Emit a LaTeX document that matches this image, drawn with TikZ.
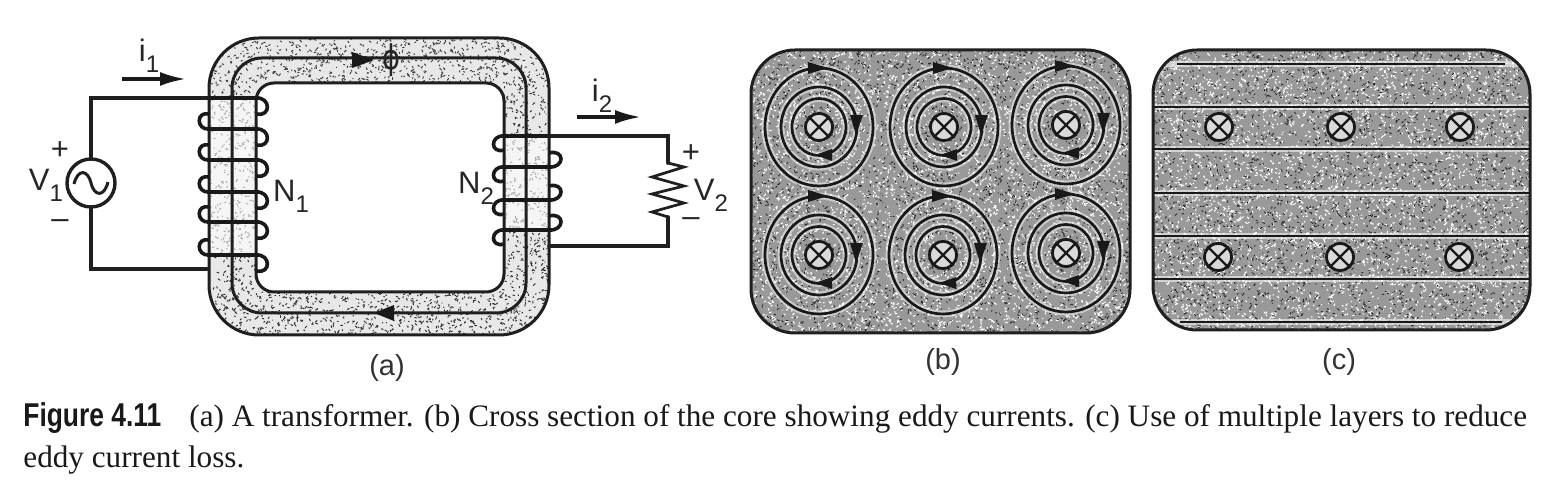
\documentclass[tikz,border=0pt]{standalone}
\usepackage{fontspec}
\setmainfont{Liberation Sans}
\newfontfamily\capserif{Liberation Serif}
\newfontfamily\capbold[FakeStretch=0.8]{Liberation Sans Bold}
\newfontfamily\phifont{DejaVu Sans}
\usetikzlibrary{arrows.meta}
\newcommand{\lsub}[1]{\raisebox{-.36em}{\fontsize{12}{12}\selectfont #1}}
% speckle: x0 y0 w h count colour width
\newcommand{\speck}[7]{%
  \foreach \k in {1,...,#5}{%
    \pgfmathsetmacro\pxa{#1+#3*rnd}%
    \pgfmathsetmacro\pya{#2+#4*rnd}%
    \pgfmathsetmacro\pxb{\pxa+4*rnd-2}%
    \pgfmathsetmacro\pyb{\pya+4*rnd-2}%
    \draw[#6,line width=#7,line cap=round] (\pxa,\pya) -- (\pxb,\pyb);
  }%
}
\tikzset{
  wire/.style={line width=1.8pt,line join=miter,line cap=round,black!88},
  coil/.style={line width=1.8pt,black!90},
  coreline/.style={line width=1.5pt,black!88},
  label/.style={font=\fontsize{15.5}{15.5}\selectfont,inner sep=0pt,text=black!85},
  paren/.style={font=\fontsize{14.5}{14.5}\selectfont,inner sep=0pt,text=black!80},
  capt/.style={font=\capserif\fontsize{15.6}{15.6}\selectfont,anchor=base west,inner sep=0pt,text=black!90},
  arrowline/.style={line width=1.7pt,black!90,-{Latex[length=13pt,width=7pt]}},
  eddy/.style={line width=1.35pt,black!90},
  halo/.style={line width=3.4pt,white,opacity=.5},
  xcirc/.style={draw=black!90,line width=1.4pt,fill=white!70!gray,circle,minimum size=13.5pt,inner sep=0pt},
  xmark/.style={line width=1.2pt,black!90},
  sep/.style={line width=1.35pt,black!90},
  tip/.style={fill=black!90,draw=none},
}
\newcommand{\xdot}[3]{%
  \node[xcirc] (#1) at (#2,#3) {};
  \draw[xmark] (#1.45) -- (#1.225) (#1.135) -- (#1.315);
}
% eddy-current cell: name cx cy
\newcommand{\cell}[3]{%
  \foreach \a/\b in {54/59,38/40,27/28.5}{
    \draw[halo] (#2,#3) ellipse [x radius=\a,y radius=\b];
    \draw[eddy] (#2,#3) ellipse [x radius=\a,y radius=\b];
  }
  % arrowheads: outer top (right), middle right (down), inner bottom (left)
  \fill[tip] (#2-11,#3-65) -- (#2+9,#3-59) -- (#2-11,#3-53) -- cycle;
  \fill[tip] (#2+31,#3-12) -- (#2+44,#3-12) -- (#2+37,#3+8) -- cycle;
  \fill[tip] (#2+13,#3+22) -- (#2+13,#3+34) -- (#2-4,#3+28) -- cycle;
  \xdot{x#1}{#2}{#3}
}
\begin{document}
\begin{tikzpicture}[x=.5pt,y=-.5pt]
\useasboundingbox[fill=white] (0,0) rectangle (1558,490);

% ------ panel (a): core
\path[fill=black!9,rounded corners=25pt] (209,38) rectangle (549,335);
\begin{scope}
  \clip[rounded corners=25pt] (209,38) rectangle (549,335);
  \pgfmathsetseed{411}
  \speck{209}{38}{340}{45}{750}{black!75}{.5pt}
  \speck{209}{292}{340}{43}{750}{black!80}{.5pt}
  \speck{209}{83}{47}{209}{420}{black!80}{.5pt}
  \speck{504}{83}{45}{209}{420}{black!80}{.5pt}
  \fill[white,opacity=.6] (209,98) rectangle (256,255);
  \fill[white,opacity=.6] (504,136) rectangle (549,230);
\end{scope}
\draw[coreline,rounded corners=25pt] (209,38) rectangle (549,335);
\draw[coreline,rounded corners=15pt] (232,58) rectangle (526,313);
\draw[coreline,fill=white,rounded corners=9pt] (256,83) rectangle (504,292);

% primary winding
\foreach \y in {98,129,160,192,222,255}{
  \draw[coil] (207,\y) -- (256,\y) .. controls (271,\y-1) and (271,\y+19) .. (257,\y+16);
}
\foreach \y in {129,160,192,222,255}{
  \draw[coil] (209,\y) .. controls (196,\y+1) and (196,\y-18) .. (209,\y-15);
}
% secondary winding
\foreach \y in {136,167,200,230}{
  \draw[coil] (504,\y) -- (549,\y);
  \draw[coil] (504,\y) .. controls (490,\y-1) and (490,\y+18) .. (504,\y+14);
}
\foreach \y in {167,200,230}{
  \draw[coil] (549,\y) .. controls (565,\y+1) and (565,\y-18) .. (549,\y-14);
}

% flux arrows
\fill[tip] (352,52) -- (374,60) -- (352,68) -- cycle;
\fill[tip] (394,305) -- (374,313) -- (394,321) -- cycle;
\node[font=\phifont\fontsize{17}{17}\selectfont,inner sep=0pt,text=black!85] (phi) at (391,60) {\scalebox{.8}[1]{ϕ}};

% primary circuit
\node[circle,draw=black!88,line width=1.7pt,minimum size=24pt,inner sep=0pt] (src) at (91,183) {};
\draw[line width=1.5pt,black!88] (74,184) .. controls (78,168) and (88,170) .. (91,183) .. controls (94,196) and (104,198) .. (108,182);
\coordinate (pt) at (209,98);
\coordinate (pb) at (207,269);
\draw[wire] (src.north) |- (pt);
\draw[wire] (src.south) |- (pb);

% secondary circuit
\coordinate (st) at (549,136);
\coordinate (sb) at (549,246);
\coordinate (rt) at (668,163);
\coordinate (rb) at (668,217);
\draw[wire] (st) -| (rt);
\draw[wire] (sb) -| (rb);
\draw[line width=1.35pt,black!88,line join=miter] (rt) -- (684,167) -- (652,177) -- (684,186) -- (652,194) -- (684,203) -- (652,212) -- (rb);

% current arrows
\coordinate (ia) at (122,79);
\coordinate (ib) at (186,79);
\coordinate (ic) at (577,117);
\coordinate (id) at (641,117);
\draw[arrowline] (ia) -- (ib);
\draw[arrowline] (ic) -- (id);

% labels
\node[label] (i1) at (149,56) {i\lsub{1}};
\node[label] (i2) at (602,96) {i\lsub{2}};
\node[label] (v1) at (46,185) {V\lsub{1}};
\node[label] (plus1) at (60,151) {+};
\node[label] (minus1) at (60,224) {–};
\node[label] (n1) at (291,196) {N\lsub{1}};
\node[label] (n2) at (476,188) {N\lsub{2}};
\node[label] (plus2) at (691,154) {+};
\node[label] (minus2) at (691,222) {–};
\node[label] (v2) at (711,195) {V\lsub{2}};

% ------ panel (b)
\path[fill=black!40,rounded corners=22pt] (751,50) rectangle (1130,333);
\begin{scope}
  \clip[rounded corners=22pt] (751,50) rectangle (1130,333);
  \pgfmathsetseed{73}
  \speck{751}{50}{379}{283}{4200}{white}{.55pt}
  \speck{751}{50}{379}{283}{2800}{black!85}{.45pt}
\end{scope}
\draw[coreline,rounded corners=22pt] (751,50) rectangle (1130,333);
\cell{a}{819}{127}
\cell{b}{944}{127}
\cell{c}{1066}{125}
\cell{d}{819}{255}
\cell{e}{943}{255}
\cell{f}{1066}{253}

% ------ panel (c)
\path[fill=black!40,rounded corners=22pt] (1153,50) rectangle (1530,330);
\begin{scope}
  \clip[rounded corners=22pt] (1153,50) rectangle (1530,330);
  \pgfmathsetseed{29}
  \speck{1153}{50}{377}{280}{4200}{white}{.55pt}
  \speck{1153}{50}{377}{280}{2800}{black!85}{.45pt}
  \foreach \y in {64,107,149,193,236,279,322}{
    \draw[line width=3pt,white,opacity=.55] (1153,\y) -- (1530,\y);
  }
\end{scope}
\draw[coreline,rounded corners=22pt] (1153,50) rectangle (1530,330);
\foreach \y in {107,149,193,236,279}{
  \coordinate (l\y) at (1153,\y);
  \coordinate (r\y) at (1530,\y);
  \draw[sep] (l\y) -- (r\y);
}
\coordinate (lt) at (1177,64);
\coordinate (rtt) at (1505,64);
\coordinate (lbb) at (1180,322);
\coordinate (rbb) at (1502,322);
\draw[sep] (lt) -- (rtt);
\draw[sep] (lbb) -- (rbb);
\xdot{ya}{1219}{127}
\xdot{yb}{1341}{127}
\xdot{yc}{1460}{127}
\xdot{yd}{1218}{257}
\xdot{ye}{1340}{257}
\xdot{yf}{1459}{257}

% panel letters
\node[paren] (pa) at (387,368) {(a)};
\node[paren] (pb2) at (943,362) {(b)};
\node[paren] (pc) at (1339,362) {(c)};

% caption
\node[anchor=base west,inner sep=0pt,font=\capbold\fontsize{16.5}{16.5}\selectfont,text=black!90] (figno) at (23,427) {Figure 4.11};
\node[capt] (cap1) at (189,427) {(a) A transformer. (b) Cross section of the core showing eddy currents. (c) Use of multiple layers to reduce};
\node[capt] (cap2) at (23,468) {eddy current loss.};
\end{tikzpicture}
\end{document}
